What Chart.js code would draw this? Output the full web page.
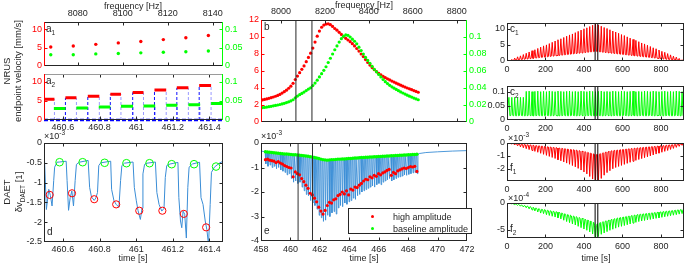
<!DOCTYPE html>
<html><head><meta charset="utf-8">
<script src="https://cdn.jsdelivr.net/npm/chart.js@4.4.1/dist/chart.umd.min.js"></script>
<style>
html,body{margin:0;padding:0;background:#fff;}
#fig{position:relative;width:685px;height:264px;overflow:hidden;font-family:'Liberation Sans',Arial,sans-serif;color:#262626;background:#fff;}
#fig canvas{position:absolute;}
.t{position:absolute;white-space:nowrap;font-size:9px;line-height:1;}
.t sub,.t sup{font-size:6.5px;line-height:0;}
</style></head><body><div id="fig"></div>
<script>
// ---------------- DATA ----------------
// panel a1 (NRUS velocity vs frequency)
const a1Freq  = [8068, 8078, 8088, 8098, 8108, 8118, 8128, 8138];
const a1Red   = [5.2, 5.45, 5.9, 6.3, 6.7, 7.2, 7.7, 8.3];
const a1Green = [0.0305, 0.0305, 0.033, 0.034, 0.0358, 0.0374, 0.039, 0.041];
const a1FreqTicks = [8080, 8100, 8120, 8140];
// panel a2 (levels vs time)
const a2RedStart = [460.493, 460.614, 460.736, 460.859, 460.981, 461.100, 461.222, 461.344];
const a2RedEnd   = [460.554, 460.674, 460.799, 460.917, 461.040, 461.164, 461.285, 461.409];
const a2Red      = [5.4, 5.8, 6.2, 6.7, 7.2, 7.8, 8.4, 9.0];
const a2GreenStart = [460.551, 460.674, 460.796, 460.917, 461.040, 461.164, 461.285, 461.409];
const a2GreenEnd   = [460.614, 460.736, 460.859, 460.983, 461.104, 461.225, 461.349, 461.473];
const a2Green      = [0.030, 0.0315, 0.034, 0.036, 0.0367, 0.0385, 0.040, 0.0428];
const aTimeTicks = [460.6, 460.8, 461, 461.2, 461.4];
const velTicks = [0, 5, 10];
const velTicksG = [0, 0.05, 0.1];
// panel d (DAET x1e-3 vs time)
const dBlueT = [460.500,460.510,460.523,460.532,460.541,460.550,460.555,460.568,460.582,460.618,460.623,460.631,460.640,460.649,460.658,460.667,460.674,460.690,460.738,460.746,460.756,460.771,460.780,460.789,460.796,460.807,460.861,460.866,460.879,460.891,460.906,460.915,460.922,460.936,460.983,460.990,461.001,461.010,461.023,461.032,461.037,461.046,461.059,461.105,461.113,461.125,461.140,461.152,461.159,461.167,461.185,461.228,461.233,461.242,461.249,461.256,461.265,461.274,461.282,461.289,461.307,461.346,461.354,461.365,461.377,461.386,461.395,461.404,461.411,461.427,461.454,461.474];
const dBlueV = [-0.45,-1.68,-1.17,-1.33,-1.59,-0.95,-0.61,-0.485,-0.48,-0.46,-0.95,-1.70,-1.38,-1.21,-1.59,-0.95,-0.54,-0.485,-0.44,-1.12,-1.36,-1.45,-1.39,-1.25,-0.57,-0.50,-0.46,-1.17,-1.46,-1.55,-1.62,-0.95,-0.57,-0.51,-0.48,-1.12,-1.46,-1.70,-1.93,-1.65,-0.78,-0.54,-0.51,-0.48,-1.25,-1.55,-1.72,-1.65,-0.87,-0.57,-0.53,-0.49,-1.38,-1.97,-2.14,-1.72,-1.80,-2.40,-1.12,-0.61,-0.53,-0.485,-1.38,-1.55,-1.97,-2.19,-2.57,-1.55,-0.74,-0.61,-0.51,-0.46];
const dRedT = [460.528,460.650,460.771,460.891,461.017,461.143,461.260,461.382];
const dRedV = [-1.31,-1.27,-1.42,-1.55,-1.71,-1.71,-1.79,-2.13];
const dGreenT = [460.582,460.708,460.828,460.947,461.073,461.194,461.316,461.436];
const dGreenV = [-0.485,-0.485,-0.50,-0.51,-0.51,-0.535,-0.535,-0.595];
const dTicks = [-2.5,-2,-1.5,-1,-0.5,0];
// panel b (resonance curves vs frequency)
const bFreq = [7915,7925,7935,7945,7955,7965,7975,7985,7995,8005,8015,8025,8035,8045,8055,8065,8075,8085,8095,8105,8115,8125,8135,8145,8155,8165,8175,8185,8195,8205,8215,8225,8235,8245,8255,8265,8275,8285,8295,8305,8315,8325,8335,8345,8355,8365,8375,8385,8395,8405,8415,8425,8435,8445,8455,8465,8475,8485,8495,8505,8515,8525,8535,8545,8555,8565,8575,8585,8595,8605,8615,8625];
const bRed = [2.60,2.66,2.72,2.79,2.86,2.94,3.03,3.13,3.24,3.40,3.57,3.75,3.97,4.22,4.55,5.00,5.40,5.80,6.20,6.60,7.10,7.60,8.10,8.70,9.40,10.10,10.70,11.15,11.40,11.52,11.55,11.45,11.25,11.00,10.80,10.55,10.30,10.05,9.85,9.65,9.45,9.22,8.95,8.65,8.35,8.00,7.70,7.35,7.00,6.70,6.40,6.15,5.92,5.72,5.54,5.37,5.22,5.08,4.95,4.82,4.70,4.57,4.45,4.33,4.22,4.11,4.00,3.90,3.80,3.70,3.60,3.50];
const bGreen = [0.0168,0.0172,0.0176,0.0180,0.0185,0.0190,0.0195,0.0200,0.0206,0.0213,0.0220,0.0228,0.0237,0.0248,0.0262,0.0285,0.0305,0.0322,0.0336,0.0352,0.0370,0.0387,0.0402,0.0428,0.0458,0.0492,0.0530,0.0568,0.0608,0.0650,0.0700,0.0750,0.0800,0.0850,0.0895,0.0940,0.0980,0.1010,0.1025,0.1020,0.1000,0.0975,0.0950,0.0920,0.0880,0.0840,0.0800,0.0760,0.0725,0.0690,0.0655,0.0620,0.0590,0.0560,0.0530,0.0500,0.0475,0.0452,0.0432,0.0414,0.0398,0.0383,0.0368,0.0354,0.0341,0.0328,0.0316,0.0304,0.0293,0.0282,0.0272,0.0262];
const bFreqTicks = [8000, 8200, 8400, 8600, 8800];
const bRedTicks = [0, 2, 4, 6, 8, 10, 12];
const bGreenTicks = [0, 0.02, 0.04, 0.06, 0.08, 0.1];
const bMarkFreq = [8068, 8141];
// panel e (DAET x1e-3 over one sweep)
const eT = [458.30,458.445,458.59,458.735,458.88,459.025,459.17,459.315,459.46,459.605,459.75,459.895,460.04,460.185,460.33,460.475,460.62,460.765,460.91,461.055,461.20,461.345,461.49,461.635,461.78,461.925,462.07,462.215,462.36,462.505,462.65,462.795,462.94,463.085,463.23,463.375,463.52,463.665,463.81,463.955,464.10,464.245,464.39,464.535,464.68,464.825,464.97,465.115,465.26,465.405,465.55,465.695,465.84,465.985,466.13,466.275,466.42,466.565,466.71,466.855,467.00,467.145,467.29,467.435,467.58,467.725,467.87,468.015,468.16,468.305,468.45,468.595];
const eRed = [-0.68,-0.66,-0.70,-0.72,-0.74,-0.80,-0.76,-0.82,-0.86,-0.92,-0.96,-1.00,-1.02,-1.38,-1.18,-1.25,-1.30,-1.45,-1.58,-1.72,-1.85,-2.05,-2.12,-2.25,-2.40,-2.62,-2.78,-2.90,-2.75,-2.55,-2.42,-2.45,-2.32,-2.28,-2.15,-2.10,-2.00,-2.08,-1.95,-2.12,-1.88,-1.92,-1.80,-1.82,-1.72,-1.65,-1.55,-1.48,-1.50,-1.38,-1.42,-1.32,-1.36,-1.25,-1.30,-1.22,-1.18,-1.12,-1.08,-1.32,-1.20,-1.25,-1.14,-1.10,-1.06,-1.02,-1.04,-1.00,-0.96,-0.98,-0.95,-1.16];
const eGreen = [-0.36,-0.37,-0.38,-0.39,-0.40,-0.41,-0.42,-0.43,-0.44,-0.45,-0.45,-0.46,-0.47,-0.48,-0.48,-0.49,-0.50,-0.51,-0.52,-0.53,-0.54,-0.56,-0.57,-0.59,-0.61,-0.63,-0.66,-0.68,-0.69,-0.70,-0.69,-0.68,-0.68,-0.67,-0.66,-0.66,-0.65,-0.65,-0.64,-0.63,-0.63,-0.62,-0.61,-0.61,-0.60,-0.59,-0.59,-0.58,-0.58,-0.57,-0.57,-0.56,-0.56,-0.55,-0.55,-0.54,-0.54,-0.53,-0.53,-0.52,-0.52,-0.51,-0.51,-0.50,-0.50,-0.49,-0.49,-0.48,-0.48,-0.47,-0.47,-0.46];
const eBlueLow = [-0.85,-0.95,-0.90,-1.00,-0.95,-1.05,-1.00,-1.10,-1.15,-1.20,-1.30,-1.25,-1.45,-1.60,-1.55,-1.65,-1.60,-1.80,-1.95,-2.10,-2.15,-2.35,-2.45,-2.55,-2.70,-2.95,-3.05,-3.20,-3.15,-2.95,-3.00,-2.85,-2.80,-2.90,-2.65,-2.55,-2.60,-2.45,-2.50,-2.40,-2.35,-2.25,-2.30,-2.15,-2.10,-2.00,-1.95,-1.90,-1.85,-1.80,-1.75,-1.80,-1.70,-1.65,-1.70,-1.60,-1.55,-1.50,-1.45,-1.55,-1.50,-1.45,-1.40,-1.38,-1.35,-1.30,-1.32,-1.28,-1.25,-1.22,-1.20,-1.25];
const eBlueLeadT = [458.0, 458.2];
const eBlueLeadV = [-0.33, -0.35];
const eBlueTailT = [468.75, 469.2, 470.0, 471.0, 472.0];
const eBlueTailV = [-0.43, -0.39, -0.36, -0.33, -0.31];
const eTicks = [458, 460, 462, 464, 466, 468, 470, 472];
const eYTicks = [-4, -3, -2, -1, 0];
const eMarkT = [460.52, 461.5];
// panels c1, c2, f1, f2 (whole experiment, one spike per sweep)
const cT = [5,20,35,50,65,80,95,110,125,140,155,170,185,200,215,230,245,260,275,290,305,320,335,350,365,380,395,410,425,440,455,470,485,500,515,530,545,560,575,590,605,620,635,650,665,680,695,710,725,740,755,770,785,800,815,830,845,860,875,890,905];
const c1Peak = [0.2,0.5,0.9,1.3,1.6,2.0,2.4,2.8,3.2,3.5,3.9,4.3,4.7,5.0,5.4,5.8,6.2,6.6,6.9,7.3,7.7,8.1,8.4,8.8,9.2,9.6,10.0,10.3,10.7,11.1,11.5,11.2,10.8,10.4,10.1,9.7,9.3,9.0,8.6,8.2,7.9,7.5,7.1,6.7,6.4,6.0,5.6,5.3,4.9,4.5,4.1,3.8,3.4,3.0,2.7,2.3,1.9,1.5,1.2,0.8,0.4];
const c1Base = [0.05,0.1,0.2,0.3,0.4,0.5,0.6,0.7,0.8,0.9,1.0,1.1,1.2,1.3,1.4,1.5,1.6,1.7,1.8,1.9,2.0,2.1,2.2,2.3,2.4,2.5,2.6,2.7,2.8,2.9,3.0,2.9,2.8,2.7,2.6,2.5,2.4,2.3,2.2,2.1,2.0,1.9,1.8,1.7,1.6,1.5,1.4,1.3,1.2,1.1,1.0,0.9,0.8,0.7,0.6,0.5,0.4,0.3,0.25,0.15,0.1];
const c2Peak = [0.08,0.08,0.08,0.08,0.08,0.08,0.101,0.102,0.1,0.101,0.102,0.1,0.101,0.1,0.102,0.101,0.1,0.102,0.101,0.1,0.101,0.102,0.1,0.101,0.1,0.102,0.101,0.1,0.102,0.101,0.1,0.101,0.102,0.1,0.101,0.1,0.102,0.101,0.1,0.102,0.101,0.1,0.101,0.102,0.1,0.101,0.1,0.102,0.101,0.1,0.102,0.101,0.1,0.101,0.102,0.1,0.101,0.1,0.102,0.101,0.1];
const c2Base = [0.015,0.016,0.015,0.015,0.016,0.015,0.015,0.016,0.015,0.015,0.016,0.015,0.015,0.016,0.015,0.015,0.016,0.015,0.015,0.016,0.015,0.015,0.016,0.015,0.015,0.016,0.015,0.015,0.016,0.015,0.015,0.016,0.015,0.015,0.016,0.015,0.015,0.016,0.015,0.015,0.016,0.015,0.015,0.016,0.015,0.015,0.016,0.015,0.015,0.016,0.015,0.015,0.016,0.015,0.015,0.016,0.015,0.015,0.016,0.015,0.015];
const f1Low = [-0.02,-0.08,-0.15,-0.22,-0.30,-0.37,-0.44,-0.51,-0.58,-0.65,-0.72,-0.80,-0.88,-0.96,-1.04,-1.12,-1.20,-1.30,-1.38,-1.47,-1.56,-1.65,-1.75,-1.85,-1.97,-2.10,-2.25,-2.40,-2.60,-2.80,-3.00,-2.95,-2.75,-2.50,-2.30,-2.15,-2.00,-1.90,-1.82,-1.74,-1.66,-1.58,-1.50,-1.42,-1.35,-1.28,-1.21,-1.14,-1.07,-1.00,-0.93,-0.86,-0.79,-0.72,-0.65,-0.58,-0.50,-0.42,-0.34,-0.26,-0.18];
const f1Base = [-0.01,-0.03,-0.05,-0.07,-0.09,-0.11,-0.13,-0.15,-0.17,-0.2,-0.22,-0.24,-0.26,-0.29,-0.31,-0.34,-0.36,-0.39,-0.41,-0.44,-0.47,-0.5,-0.52,-0.55,-0.59,-0.63,-0.67,-0.72,-0.78,-0.84,-0.9,-0.88,-0.82,-0.75,-0.69,-0.64,-0.6,-0.57,-0.55,-0.52,-0.5,-0.47,-0.45,-0.43,-0.4,-0.38,-0.36,-0.34,-0.32,-0.3,-0.28,-0.26,-0.24,-0.22,-0.2,-0.17,-0.15,-0.13,-0.1,-0.08,-0.05];
const f2Low = [-0.05,-0.15,-0.3,-0.45,-0.6,-0.75,-0.9,-1.1,-1.3,-1.5,-1.7,-1.9,-2.0,-2.2,-2.35,-2.5,-2.65,-2.8,-3.0,-3.25,-3.5,-3.7,-3.95,-4.15,-4.4,-4.65,-4.9,-5.15,-5.45,-5.85,-6.8,-6.3,-5.9,-5.65,-5.4,-5.15,-4.95,-4.75,-4.55,-4.4,-4.25,-4.1,-3.95,-3.8,-3.65,-3.5,-3.4,-3.3,-3.2,-3.1,-3.0,-2.9,-2.8,-2.7,-2.6,-2.5,-2.4,-2.3,-2.2,-2.1,-2.0];
const f2Base = [-0.03,-0.09,-0.19,-0.28,-0.37,-0.47,-0.56,-0.68,-0.81,-0.93,-1.05,-1.18,-1.24,-1.36,-1.46,-1.55,-1.64,-1.74,-1.86,-2.02,-2.17,-2.29,-2.45,-2.57,-2.73,-2.88,-3.04,-3.19,-3.38,-3.63,-4.2,-3.9,-3.66,-3.5,-3.35,-3.19,-3.07,-2.95,-2.82,-2.73,-2.64,-2.54,-2.45,-2.36,-2.26,-2.17,-2.11,-2.05,-1.98,-1.92,-1.86,-1.8,-1.74,-1.67,-1.61,-1.55,-1.49,-1.43,-1.36,-1.3,-1.24];
const cTicks = [0, 200, 400, 600, 800];
const c2Ticks = [0, 0.05, 0.1];
const f1Ticks = [-2, -1, 0];
const f2Ticks = [-5, 0];
const cMarkT = [458, 472];

// ---------------- DRAWING ----------------
const RED = '#ff0000', GREEN = '#00ff00', DK = '#262626';
const FIG = document.getElementById('fig');
const M = 40;
Chart.defaults.font.family = "'Liberation Sans', Arial, sans-serif";
Chart.defaults.font.size = 9;
Chart.defaults.color = DK;
const fmt = v => String(Math.round(v * 1e6) / 1e6);

const boxPlugin = {
  id: 'box',
  afterDatasetsDraw(chart, args, o) {
    const ctx = chart.ctx, a = chart.chartArea;
    const L = Math.round(a.left) + 0.5, R = Math.round(a.right) - 0.5, T = Math.round(a.top) + 0.5, B = Math.round(a.bottom) - 0.5;
    ctx.save();
    ctx.lineWidth = 1;
    (o.marks || []).forEach(m => {
      const s = chart.scales[m.id]; if (!s) return;
      ctx.strokeStyle = m.color;
      ctx.beginPath();
      s.ticks.forEach(t => {
        const p = Math.round(s.getPixelForValue(t.value)) + 0.5;
        if (s.isHorizontal()) {
          if (p < L + 1 || p > R - 1) return;
          (m.both ? ['top', 'bottom'] : [s.position]).forEach(sd => {
            const y0 = sd === 'top' ? T : B, dir = sd === 'top' ? 1 : -1;
            ctx.moveTo(p, y0); ctx.lineTo(p, y0 + dir * 3);
          });
        } else {
          if (p < T + 1 || p > B - 1) return;
          (m.both ? ['left', 'right'] : [s.position]).forEach(sd => {
            const x0 = sd === 'left' ? L : R, dir = sd === 'left' ? 1 : -1;
            ctx.moveTo(x0, p); ctx.lineTo(x0 + dir * 3, p);
          });
        }
      });
      ctx.stroke();
    });
    const c = o.colors || {};
    const side = (col, x1, y1, x2, y2) => { ctx.strokeStyle = col; ctx.beginPath(); ctx.moveTo(x1, y1); ctx.lineTo(x2, y2); ctx.stroke(); };
    side(c.top || DK, L - 0.5, T, R + 0.5, T);
    side(c.bottom || DK, L - 0.5, B, R + 0.5, B);
    side(c.left || DK, L, T - 0.5, L, B + 0.5);
    side(c.right || DK, R, T - 0.5, R, B + 0.5);
    ctx.restore();
  }
};

function ax(pos, min, max, ticks, color, labels = true, pad = 3) {
  return {
    type: 'linear', position: pos, min, max,
    afterBuildTicks: s => { s.ticks = ticks.map(v => ({ value: v })); },
    afterFit: s => { if (s.isHorizontal()) s.height = M; else s.width = M; },
    ticks: { display: labels, color, padding: pad, autoSkip: false, maxRotation: 0, minRotation: 0, font: { size: 9 }, callback: v => fmt(v) },
    grid: { display: false, drawTicks: false },
    border: { display: false }
  };
}

function panel(rect, scales, datasets, box) {
  const w = rect.r - rect.l + 2 * M, h = rect.b - rect.t + 2 * M;
  const cv = document.createElement('canvas');
  cv.width = w; cv.height = h;
  cv.style.left = (rect.l - M) + 'px'; cv.style.top = (rect.t - M) + 'px';
  cv.style.width = w + 'px'; cv.style.height = h + 'px';
  FIG.appendChild(cv);
  const has = {};
  Object.values(scales).forEach(s => has[s.position] = true);
  const pad = { left: has.left ? 0 : M, right: has.right ? 0 : M, top: has.top ? 0 : M, bottom: has.bottom ? 0 : M };
  datasets.forEach((d, i) => { if (d.order === undefined) d.order = i; if (d.clip === undefined) d.clip = 0; });
  return new Chart(cv, {
    type: 'scatter', data: { datasets },
    options: { responsive: false, animation: false, devicePixelRatio: 1, events: [],
      layout: { padding: pad }, scales,
      plugins: { legend: { display: false }, tooltip: { enabled: false }, box } },
    plugins: [boxPlugin]
  });
}

const xy = (xs, ys) => xs.map((x, i) => ({ x, y: ys[i] }));
const segs = (s, e, v) => s.flatMap((x, i) => [{ x, y: v[i] }, { x: e[i], y: v[i] }, { x: e[i], y: null }]);
const vsegs = (xs, y0, ys) => xs.flatMap((x, i) => [{ x, y: y0 }, { x, y: ys[i] }, { x, y: null }]);
const vlines = (xs, y0, y1) => xs.flatMap(x => [{ x, y: y0 }, { x, y: y1 }, { x, y: null }]);
const line = (data, color, width, extra = {}) => Object.assign({ data, showLine: true, borderColor: color, backgroundColor: color, borderWidth: width, pointRadius: 0, fill: false, tension: 0, spanGaps: false }, extra);
const dots = (data, color, r, extra = {}) => Object.assign({ data, showLine: false, pointRadius: r, pointBackgroundColor: color, pointBorderWidth: 0, backgroundColor: color, borderColor: color }, extra);
const rings = (data, color, r) => ({ data, showLine: false, pointRadius: r, pointBorderWidth: 1, pointBorderColor: color, pointBackgroundColor: 'rgba(0,0,0,0)', borderColor: color, backgroundColor: 'rgba(0,0,0,0)' });

// a1
panel({ l: 44, r: 223, t: 22, b: 66 }, {
  x: ax('top', 8065, 8144.5, a1FreqTicks, DK, true, 3),
  y: ax('left', 0, 12, velTicks, RED, true, 2),
  y2: ax('right', 0, 0.12, velTicksG, GREEN, true, 2)
}, [
  dots(xy(a1Freq, a1Red), RED, 1.7, { yAxisID: 'y' }),
  dots(xy(a1Freq, a1Green), GREEN, 1.7, { yAxisID: 'y2' })
], { colors: { left: RED, right: GREEN }, marks: [{ id: 'x', color: DK, both: true }, { id: 'y', color: RED }, { id: 'y2', color: GREEN }] });

// a2
panel({ l: 44, r: 223, t: 74, b: 120 }, {
  x: ax('bottom', 460.497, 461.474, aTimeTicks, DK, true, 2),
  y: ax('left', 0, 12, velTicks, RED, true, 2),
  y2: ax('right', 0, 0.12, velTicksG, GREEN, true, 2)
}, [
  line(segs(a2RedStart, a2RedEnd, a2Red), RED, 3, { yAxisID: 'y', order: 0 }),
  line(segs(a2GreenStart, a2GreenEnd, a2Green), GREEN, 3, { yAxisID: 'y2', order: 1 }),
  line(vsegs(a2RedStart, 0, a2Red), '#1010ff', 1, { yAxisID: 'y', borderDash: [3, 2], order: 2 }),
  line(vsegs(a2RedEnd, 0, a2Red), '#9a9aff', 1, { yAxisID: 'y', borderDash: [3, 2], order: 3 }),
  line(vsegs(a2GreenEnd, 0, a2Green), '#9a9aff', 1, { yAxisID: 'y2', borderDash: [3, 2], order: 4 }),
  line(xy([460.497, 461.474], [0, 0]), '#0000ff', 2.5, { yAxisID: 'y', borderDash: [4, 2], order: 5, clip: false })
], { colors: { left: RED, right: GREEN, top: '#9a9a9a' }, marks: [{ id: 'x', color: DK, both: true }, { id: 'y', color: RED }, { id: 'y2', color: GREEN }] });

// d
panel({ l: 44, r: 223, t: 143, b: 242 }, {
  x: ax('bottom', 460.497, 461.474, aTimeTicks, DK, true, 2),
  y: ax('left', -2.5, 0, dTicks, DK, true, 2)
}, [
  rings(xy(dGreenT, dGreenV), GREEN, 3.8),
  rings(xy(dRedT, dRedV), RED, 3.6),
  line(xy(dBlueT, dBlueV), '#3a8dd6', 1)
], { marks: [{ id: 'x', color: DK, both: true }, { id: 'y', color: DK, both: true }] });

// b
panel({ l: 261, r: 467, t: 20, b: 122 }, {
  x: ax('top', 7909, 8847, bFreqTicks, DK, true, 3),
  y: ax('left', 0, 12, bRedTicks, RED, true, 2),
  y2: ax('right', 0, 0.12, bGreenTicks, GREEN, true, 2)
}, [
  line(vlines(bMarkFreq, 0, 12), DK, 1, { yAxisID: 'y' }),
  dots(xy(bFreq, bGreen), GREEN, 1.6, { yAxisID: 'y2' }),
  dots(xy(bFreq, bRed), RED, 1.6, { yAxisID: 'y' })
], { colors: { left: RED, right: GREEN }, marks: [{ id: 'x', color: DK, both: true }, { id: 'y', color: RED }, { id: 'y2', color: GREEN }] });

// e
const eBlue = [];
eBlueLeadT.forEach((t, i) => eBlue.push({ x: t, y: eBlueLeadV[i] }));
eT.forEach((t, i) => eBlue.push({ x: t - 0.02, y: eGreen[i] }, { x: t + 0.03, y: eBlueLow[i] }, { x: t + 0.07, y: eGreen[i] }));
eBlueTailT.forEach((t, i) => eBlue.push({ x: t, y: eBlueTailV[i] }));
panel({ l: 261, r: 467, t: 143, b: 241 }, {
  x: ax('bottom', 458, 472, eTicks, DK, true, 3),
  y: ax('left', -4, 0, eYTicks, DK, true, 2)
}, [
  line(vlines(eMarkT, -4, 0), '#333', 1),
  dots(xy(eT, eGreen), GREEN, 1.7),
  dots(xy(eT, eRed), RED, 1.6),
  line(eBlue, '#3a8dd6', 0.9)
], { marks: [{ id: 'x', color: DK, both: true }, { id: 'y', color: DK, both: true }] });

// right column
function spikes(base, peak, y0) {
  const out = [{ x: 0, y: y0 }];
  cT.forEach((t, i) => out.push({ x: t, y: base[i] }, { x: t + 5, y: peak[i] }, { x: t + 10, y: base[i] }));
  out.push({ x: 920, y: base[base.length - 1] });
  return out;
}
function rightPanel(rect, ymin, ymax, yTicks, data, color) {
  panel(rect, {
    x: ax('bottom', 0, 920, cTicks, DK, true, 3),
    y: ax('left', ymin, ymax, yTicks, DK, true, 2)
  }, [
    line(vlines(cMarkT, ymin, ymax), '#000', 1),
    line(data, color, 1)
  ], { marks: [{ id: 'x', color: DK, both: true }, { id: 'y', color: DK, both: true }] });
}
rightPanel({ l: 507, r: 684, t: 23, b: 61 }, 0, 11.8, velTicks, spikes(c1Base, c1Peak, 0), RED);
rightPanel({ l: 507, r: 684, t: 86, b: 120 }, 0, 0.12, c2Ticks, spikes(c2Base, c2Peak, 0.015), GREEN);
rightPanel({ l: 507, r: 684, t: 143, b: 181 }, -2.95, 0, f1Ticks, spikes(f1Base, f1Low, 0), RED);
rightPanel({ l: 507, r: 684, t: 203, b: 238 }, -6.6, 0, f2Ticks, spikes(f2Base, f2Low, 0), GREEN);

// ---------------- TEXT ----------------
function txt(html, x, y, o = {}) {
  const d = document.createElement('div'); d.className = 't'; d.innerHTML = html;
  d.style.left = x + 'px'; d.style.top = y + 'px';
  const tr = [o.c ? 'translate(-50%,-50%)' : 'translate(0,-50%)'];
  if (o.rot) tr.push('rotate(-90deg)');
  d.style.transform = tr.join(' ');
  if (o.color) d.style.color = o.color;
  if (o.size) d.style.fontSize = o.size + 'px';
  FIG.appendChild(d);
}
txt('frequency [Hz]', 133, 5.5, { c: 1 });
txt('frequency [Hz]', 364, 4.5, { c: 1 });
txt('NRUS', 7, 71, { c: 1, rot: 1, size: 9.5 });
txt('endpoint velocity [mm/s]', 17.5, 71, { c: 1, rot: 1, size: 9.5 });
txt('DAET', 7, 192, { c: 1, rot: 1, size: 9.5 });
txt('δv<sub>DAET</sub> [1]', 19, 192, { c: 1, rot: 1, size: 9.5 });
txt('time [s]', 133, 257.5, { c: 1 });
txt('time [s]', 364, 257.5, { c: 1 });
txt('time [s]', 596, 257.5, { c: 1 });
txt('×10<sup>-3</sup>', 44, 136);
txt('×10<sup>-3</sup>', 261, 136);
txt('×10<sup>-3</sup>', 508, 137.5);
txt('×10<sup>-4</sup>', 508, 197.5);
txt('a<sub>1</sub>', 46, 29, { size: 10 });
txt('a<sub>2</sub>', 46, 81, { size: 10 });
txt('b', 264, 27, { size: 10 });
txt('d', 47, 232, { size: 10 });
txt('e', 264, 231, { size: 10 });
txt('c<sub>1</sub>', 510, 29, { size: 10 });
txt('c<sub>2</sub>', 510, 92, { size: 10 });
txt('f<sub>1</sub>', 510, 168, { size: 10 });
txt('f<sub>2</sub>', 510, 229, { size: 10 });

// legend for panel e
const lg = document.createElement('div');
lg.style.cssText = 'position:absolute;left:348px;top:208px;width:124px;height:26px;border:1px solid #262626;background:#fff;box-sizing:border-box;';
lg.innerHTML =
  '<span style="position:absolute;left:22px;top:6px;width:3px;height:3px;border-radius:50%;background:' + RED + '"></span>' +
  '<span class="t" style="left:44px;top:7.5px;transform:translate(0,-50%)">high amplitude</span>' +
  '<span style="position:absolute;left:22px;top:18px;width:3px;height:3px;border-radius:50%;background:' + GREEN + '"></span>' +
  '<span class="t" style="left:44px;top:19.5px;transform:translate(0,-50%)">baseline amplitude</span>';
FIG.appendChild(lg);
</script></body></html>
